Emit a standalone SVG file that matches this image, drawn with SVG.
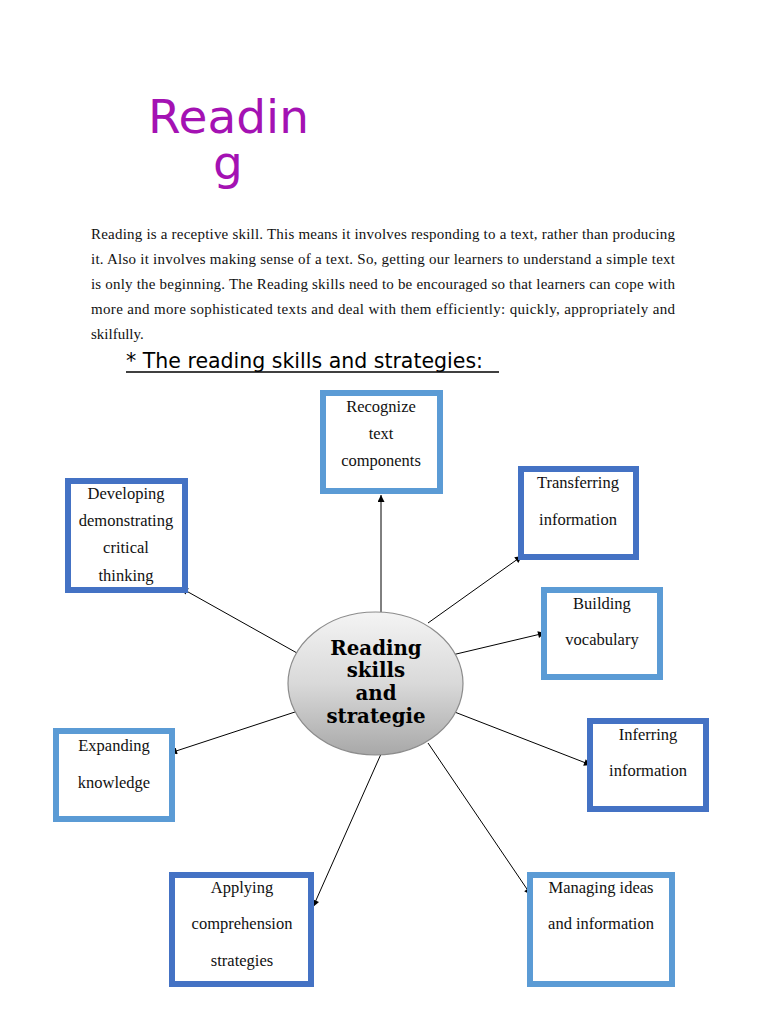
<svg xmlns="http://www.w3.org/2000/svg" width="768" height="1024" viewBox="0 0 768 1024">
<style>
.title{font-family:"DejaVu Sans",sans-serif;font-size:47px;fill:#A412B3}
.para{font-family:"Liberation Serif","Times New Roman",serif;font-size:15px;fill:#111}
.head{font-family:"DejaVu Sans",sans-serif;font-size:20.5px;fill:#000}
.lbl{font-family:"Liberation Serif","Times New Roman",serif;font-size:16.5px;fill:#111;text-anchor:middle}
.ctr{font-family:"DejaVu Serif",serif;font-weight:bold;font-size:19.8px;fill:#000;text-anchor:middle}
.light{fill:#fff;stroke:#5B9BD5;stroke-width:6}
.dark{fill:#fff;stroke:#4472C4;stroke-width:6}
.conn{stroke:#000;stroke-width:1;fill:none;marker-end:url(#ah)}
</style>
<defs>
<marker id="ah" viewBox="0 0 10 10" refX="10" refY="5" markerWidth="9" markerHeight="7" markerUnits="userSpaceOnUse" orient="auto">
<path d="M0,0 L10,5 L0,10 z" fill="#000"/>
</marker>
<linearGradient id="g" x1="0" y1="0" x2="0" y2="1">
<stop offset="0" stop-color="#f4f4f4"/>
<stop offset="0.5" stop-color="#d9d9d9"/>
<stop offset="1" stop-color="#a8a8a8"/>
</linearGradient>
</defs>
<rect width="768" height="1024" fill="#fff"/>
<g id="title">
<text class="title" x="148" y="133">Readin</text>
<text class="title" x="228" y="179" text-anchor="middle">g</text>
</g>
<g id="paragraph" class="para">
<text x="91" y="239" textLength="584" lengthAdjust="spacing">Reading is a receptive skill. This means it involves responding to a text, rather than producing</text>
<text x="91" y="264" textLength="584" lengthAdjust="spacing">it. Also it involves making sense of a text. So, getting our learners to understand a simple text</text>
<text x="91" y="289" textLength="584" lengthAdjust="spacing">is only the beginning. The Reading skills need to be encouraged so that learners can cope with</text>
<text x="91" y="314" textLength="584" lengthAdjust="spacing">more and more sophisticated texts and deal with them efficiently: quickly, appropriately and</text>
<text x="91" y="339">skilfully.</text>
</g>
<g id="heading">
<text class="head" x="126" y="368">* The reading skills and strategies:</text>
<line x1="126" y1="372" x2="499" y2="372" stroke="#000" stroke-width="1.3"/>
</g>
<g id="connectors">
<line class="conn" x1="381" y1="612" x2="381" y2="495"/>
<line class="conn" x1="297" y1="653" x2="181" y2="588"/>
<line class="conn" x1="428" y1="623" x2="522" y2="556"/>
<line class="conn" x1="452" y1="655" x2="545" y2="633"/>
<line class="conn" x1="452" y1="711" x2="591" y2="765"/>
<line class="conn" x1="298" y1="711" x2="170" y2="753"/>
<line class="conn" x1="381" y1="754" x2="313" y2="907"/>
<line class="conn" x1="428" y1="743" x2="531" y2="895"/>
</g>
<g id="center">
<ellipse cx="375.5" cy="683.5" rx="87.5" ry="71.5" fill="url(#g)" stroke="#8c8c8c" stroke-width="1.2"/>
<text class="ctr" x="376" y="655">Reading</text>
<text class="ctr" x="376" y="677">skills</text>
<text class="ctr" x="376" y="700">and</text>
<text class="ctr" x="376" y="723">strategie</text>
</g>
<g id="recognize">
<rect class="light" x="323" y="393" width="117" height="98"/>
<text class="lbl" x="381" y="412">Recognize</text>
<text class="lbl" x="381" y="439">text</text>
<text class="lbl" x="381" y="466">components</text>
</g>
<g id="developing">
<rect class="dark" x="68" y="481" width="117" height="109"/>
<text class="lbl" x="126" y="499">Developing</text>
<text class="lbl" x="126" y="526">demonstrating</text>
<text class="lbl" x="126" y="553">critical</text>
<text class="lbl" x="126" y="581">thinking</text>
</g>
<g id="transferring">
<rect class="dark" x="521" y="469" width="115" height="88"/>
<text class="lbl" x="578" y="488">Transferring</text>
<text class="lbl" x="578" y="525">information</text>
</g>
<g id="building">
<rect class="light" x="544" y="590" width="116" height="87"/>
<text class="lbl" x="602" y="609">Building</text>
<text class="lbl" x="602" y="645">vocabulary</text>
</g>
<g id="inferring">
<rect class="dark" x="590" y="721" width="116" height="88"/>
<text class="lbl" x="648" y="740">Inferring</text>
<text class="lbl" x="648" y="776">information</text>
</g>
<g id="expanding">
<rect class="light" x="56" y="731" width="116" height="88"/>
<text class="lbl" x="114" y="751">Expanding</text>
<text class="lbl" x="114" y="788">knowledge</text>
</g>
<g id="applying">
<rect class="dark" x="172" y="875" width="139" height="109"/>
<text class="lbl" x="242" y="893">Applying</text>
<text class="lbl" x="242" y="929">comprehension</text>
<text class="lbl" x="242" y="966">strategies</text>
</g>
<g id="managing">
<rect class="light" x="530" y="875" width="142" height="109"/>
<text class="lbl" x="601" y="893">Managing ideas</text>
<text class="lbl" x="601" y="929">and information</text>
</g>
</svg>
